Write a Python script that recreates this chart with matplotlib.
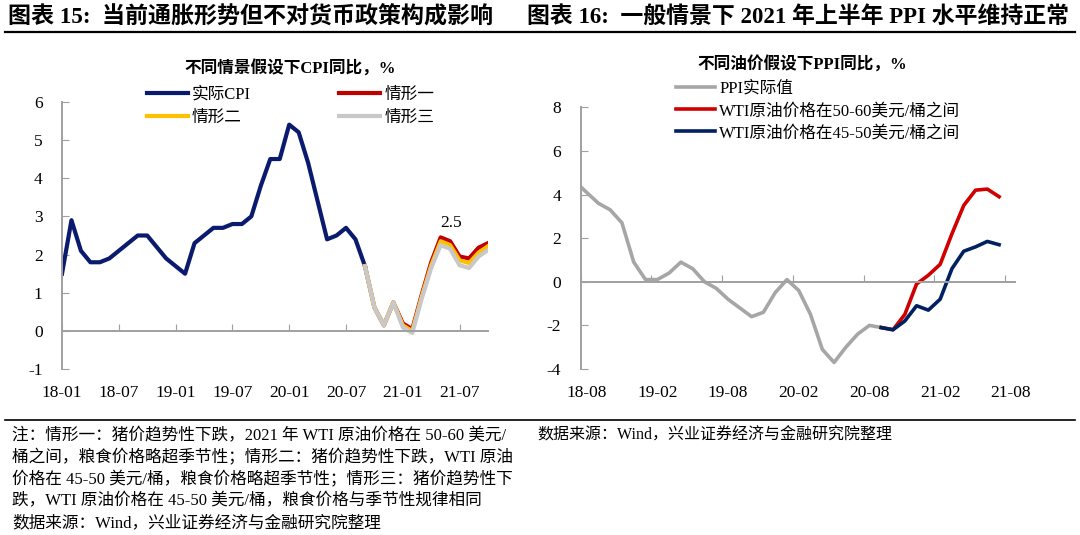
import matplotlib
matplotlib.use("Agg")
import matplotlib.pyplot as plt
import numpy as np

plt.rcParams['font.family'] = ['Liberation Serif', 'Noto Sans CJK SC']
plt.rcParams['axes.unicode_minus'] = False

W, H = 1080, 535

# ---- left chart data: CPI yoy, %
cpi_ticks = ['18-01', '18-07', '19-01', '19-07', '20-01', '20-07', '21-01', '21-07']
cpi_actual = [1.5, 2.9, 2.1, 1.8, 1.8, 1.9, 2.1, 2.3, 2.5, 2.5, 2.2, 1.9,
              1.7, 1.5, 2.3, 2.5, 2.7, 2.7, 2.8, 2.8, 3.0, 3.8, 4.5, 4.5,
              5.4, 5.2, 4.4, 3.4, 2.4, 2.5, 2.7, 2.4, 1.7]
# scenarios, 20-09 .. 21-10
scn1 = [1.7, 0.62, 0.15, 0.75, 0.2, 0.05, 0.95, 1.8, 2.45, 2.35, 1.95, 1.9, 2.18, 2.3]
scn2 = [1.7, 0.62, 0.15, 0.75, 0.15, 0.0, 0.9, 1.72, 2.35, 2.25, 1.85, 1.78, 2.05, 2.22]
scn3 = [1.7, 0.62, 0.15, 0.75, 0.1, -0.05, 0.85, 1.65, 2.25, 2.15, 1.72, 1.65, 1.95, 2.12]

# ---- right chart data: PPI yoy, %
ppi_ticks = ['18-08', '19-02', '19-08', '20-02', '20-08', '21-02', '21-08']
# 18-07 .. 20-09
ppi_actual = [4.6, 4.1, 3.6, 3.3, 2.7, 0.9, 0.1, 0.1, 0.4, 0.9, 0.6, 0.0,
              -0.3, -0.8, -1.2, -1.6, -1.4, -0.5, 0.1, -0.4, -1.5, -3.1, -3.7, -3.0,
              -2.4, -2.0, -2.1]
# 20-09 .. 21-07
wti_50_60 = [-2.1, -2.2, -1.5, -0.1, 0.3, 0.8, 2.2, 3.5, 4.2, 4.25, 3.9]
wti_45_50 = [-2.1, -2.2, -1.8, -1.1, -1.3, -0.8, 0.6, 1.4, 1.6, 1.85, 1.7]

fig = plt.figure(figsize=(W / 100, H / 100), dpi=100)

def px_axes(x0, y0, x1, y1):
    return fig.add_axes([x0 / W, 1 - y1 / H, (x1 - x0) / W, (y1 - y0) / H])

grey = '#a0a0a0'

def style_axes(ax, ypad):
    for s in ['top', 'right']:
        ax.spines[s].set_visible(False)
    ax.spines['left'].set_color(grey)
    ax.spines['bottom'].set_color(grey)
    ax.spines['left'].set_linewidth(1.4)
    ax.spines['bottom'].set_linewidth(1.4)
    ax.spines['bottom'].set_position(('data', 0))
    ax.tick_params(axis='y', direction='in', length=5, color=grey, pad=ypad, labelsize=12.5)
    ax.tick_params(axis='x', direction='in', length=5, color=grey, labelbottom=False)

# ---------------- left: CPI
ax1 = px_axes(62, 101.7, 488, 369.3)
x_act = np.arange(len(cpi_actual))
x_scn = np.arange(len(scn1)) + len(cpi_actual) - 1
ax1.plot(x_act, cpi_actual, color='#0a1a6e', lw=3.0, label='实际CPI')
ax1.plot(x_scn, scn1, color='#c00000', lw=3.0, label='情形一')
ax1.plot(x_scn, scn2, color='#ffc000', lw=3.0, label='情形二')
ax1.plot(x_scn, scn3, color='#c8c8c8', lw=3.0, label='情形三')
ax1.set_xlim(0, 45)
ax1.set_ylim(-1, 6)
ax1.set_yticks(range(-1, 7))
ax1.set_xticks(np.arange(len(cpi_ticks)) * 6)
style_axes(ax1, 14)
sec1 = ax1.secondary_xaxis(0)
sec1.set_xticks(np.arange(len(cpi_ticks)) * 6, cpi_ticks)
sec1.tick_params(length=0, pad=11.5, labelsize=12.5)
sec1.spines['bottom'].set_visible(False)
ax1.annotate('2.5', (40, scn1[8]), xytext=(7.5, 10.5), textcoords='offset points',
             ha='center', va='center', fontsize=12.5)

h, l = ax1.get_legend_handles_labels()
order = [0, 2, 1, 3]
fig.legend([h[i] for i in order], [l[i] for i in order], ncol=2, frameon=False,
           loc='upper left', bbox_to_anchor=(147 / W, 1 - 87 / H), borderpad=0, borderaxespad=0,
           handlelength=2.45, handletextpad=0.25, columnspacing=5.3, labelspacing=0.4,
           fontsize=12)
fig.text(290 / W, 1 - 68 / H, '不同情景假设下CPI同比，%', ha='center', va='center',
         fontsize=12, fontweight='bold')

# ---------------- right: PPI
ax2 = px_axes(580.7, 107.3, 1015, 369)
x_ppi = np.arange(len(ppi_actual)) - 0.5
x_wti = np.arange(len(wti_50_60)) + 25.5
ax2.plot(x_ppi, ppi_actual, color='#a6a6a6', lw=2.6, label='PPI实际值')
ax2.plot(x_wti, wti_50_60, color='#d00000', lw=2.6, label='WTI原油价格在50-60美元/桶之间')
ax2.plot(x_wti, wti_45_50, color='#002060', lw=2.6, label='WTI原油价格在45-50美元/桶之间')
ax2.set_xlim(0, 36.85)
ax2.set_ylim(-4, 8)
ax2.set_yticks(range(-4, 9, 2))
ax2.set_xticks(np.arange(len(ppi_ticks)) * 6)
style_axes(ax2, 14)
sec2 = ax2.secondary_xaxis(0)
sec2.set_xticks(np.arange(len(ppi_ticks)) * 6 + 0.5, ppi_ticks)
sec2.tick_params(length=0, pad=11.5, labelsize=12.5)
sec2.spines['bottom'].set_visible(False)
fig.legend(*ax2.get_legend_handles_labels(), frameon=False, loc='upper left',
           bbox_to_anchor=(676 / W, 1 - 81 / H), borderpad=0, borderaxespad=0,
           handlelength=2.35, handletextpad=0.25, labelspacing=0.37, fontsize=12)
fig.text(802 / W, 1 - 65 / H, '不同油价假设下PPI同比，%', ha='center', va='center',
         fontsize=12, fontweight='bold')

# ---------------- header / footer
fig.text(8 / W, 1 - 17 / H, '图表 15:  当前通胀形势但不对货币政策构成影响', ha='left', va='center',
         fontsize=16.6, fontweight='bold')
fig.text(527 / W, 1 - 17 / H, '图表 16:  一般情景下 2021 年上半年 PPI 水平维持正常', ha='left',
         va='center', fontsize=16.5, fontweight='bold')
fig.add_artist(plt.Line2D([5 / W, 1075 / W], [1 - 32 / H, 1 - 32 / H], color='black', lw=1.6))
fig.add_artist(plt.Line2D([5 / W, 1075 / W], [1 - 420 / H, 1 - 420 / H], color='black', lw=1.2))

notes = ['注：情形一：猪价趋势性下跌，2021 年 WTI 原油价格在 50-60 美元/',
         '桶之间，粮食价格略超季节性；情形二：猪价趋势性下跌，WTI 原油',
         '价格在 45-50 美元/桶，粮食价格略超季节性；情形三：猪价趋势性下',
         '跌，WTI 原油价格在 45-50 美元/桶，粮食价格与季节性规律相同',
         '数据来源：Wind，兴业证券经济与金融研究院整理']
note_y = [436, 458, 480, 501, 523]
for t, y in zip(notes, note_y):
    fig.text(12 / W, 1 - y / H, t, ha='left', va='center', fontsize=12)
fig.text(537 / W, 1 - 436 / H, '数据来源：Wind，兴业证券经济与金融研究院整理', ha='left',
         va='center', fontsize=11.5)

fig.savefig('out.png', dpi=100)
